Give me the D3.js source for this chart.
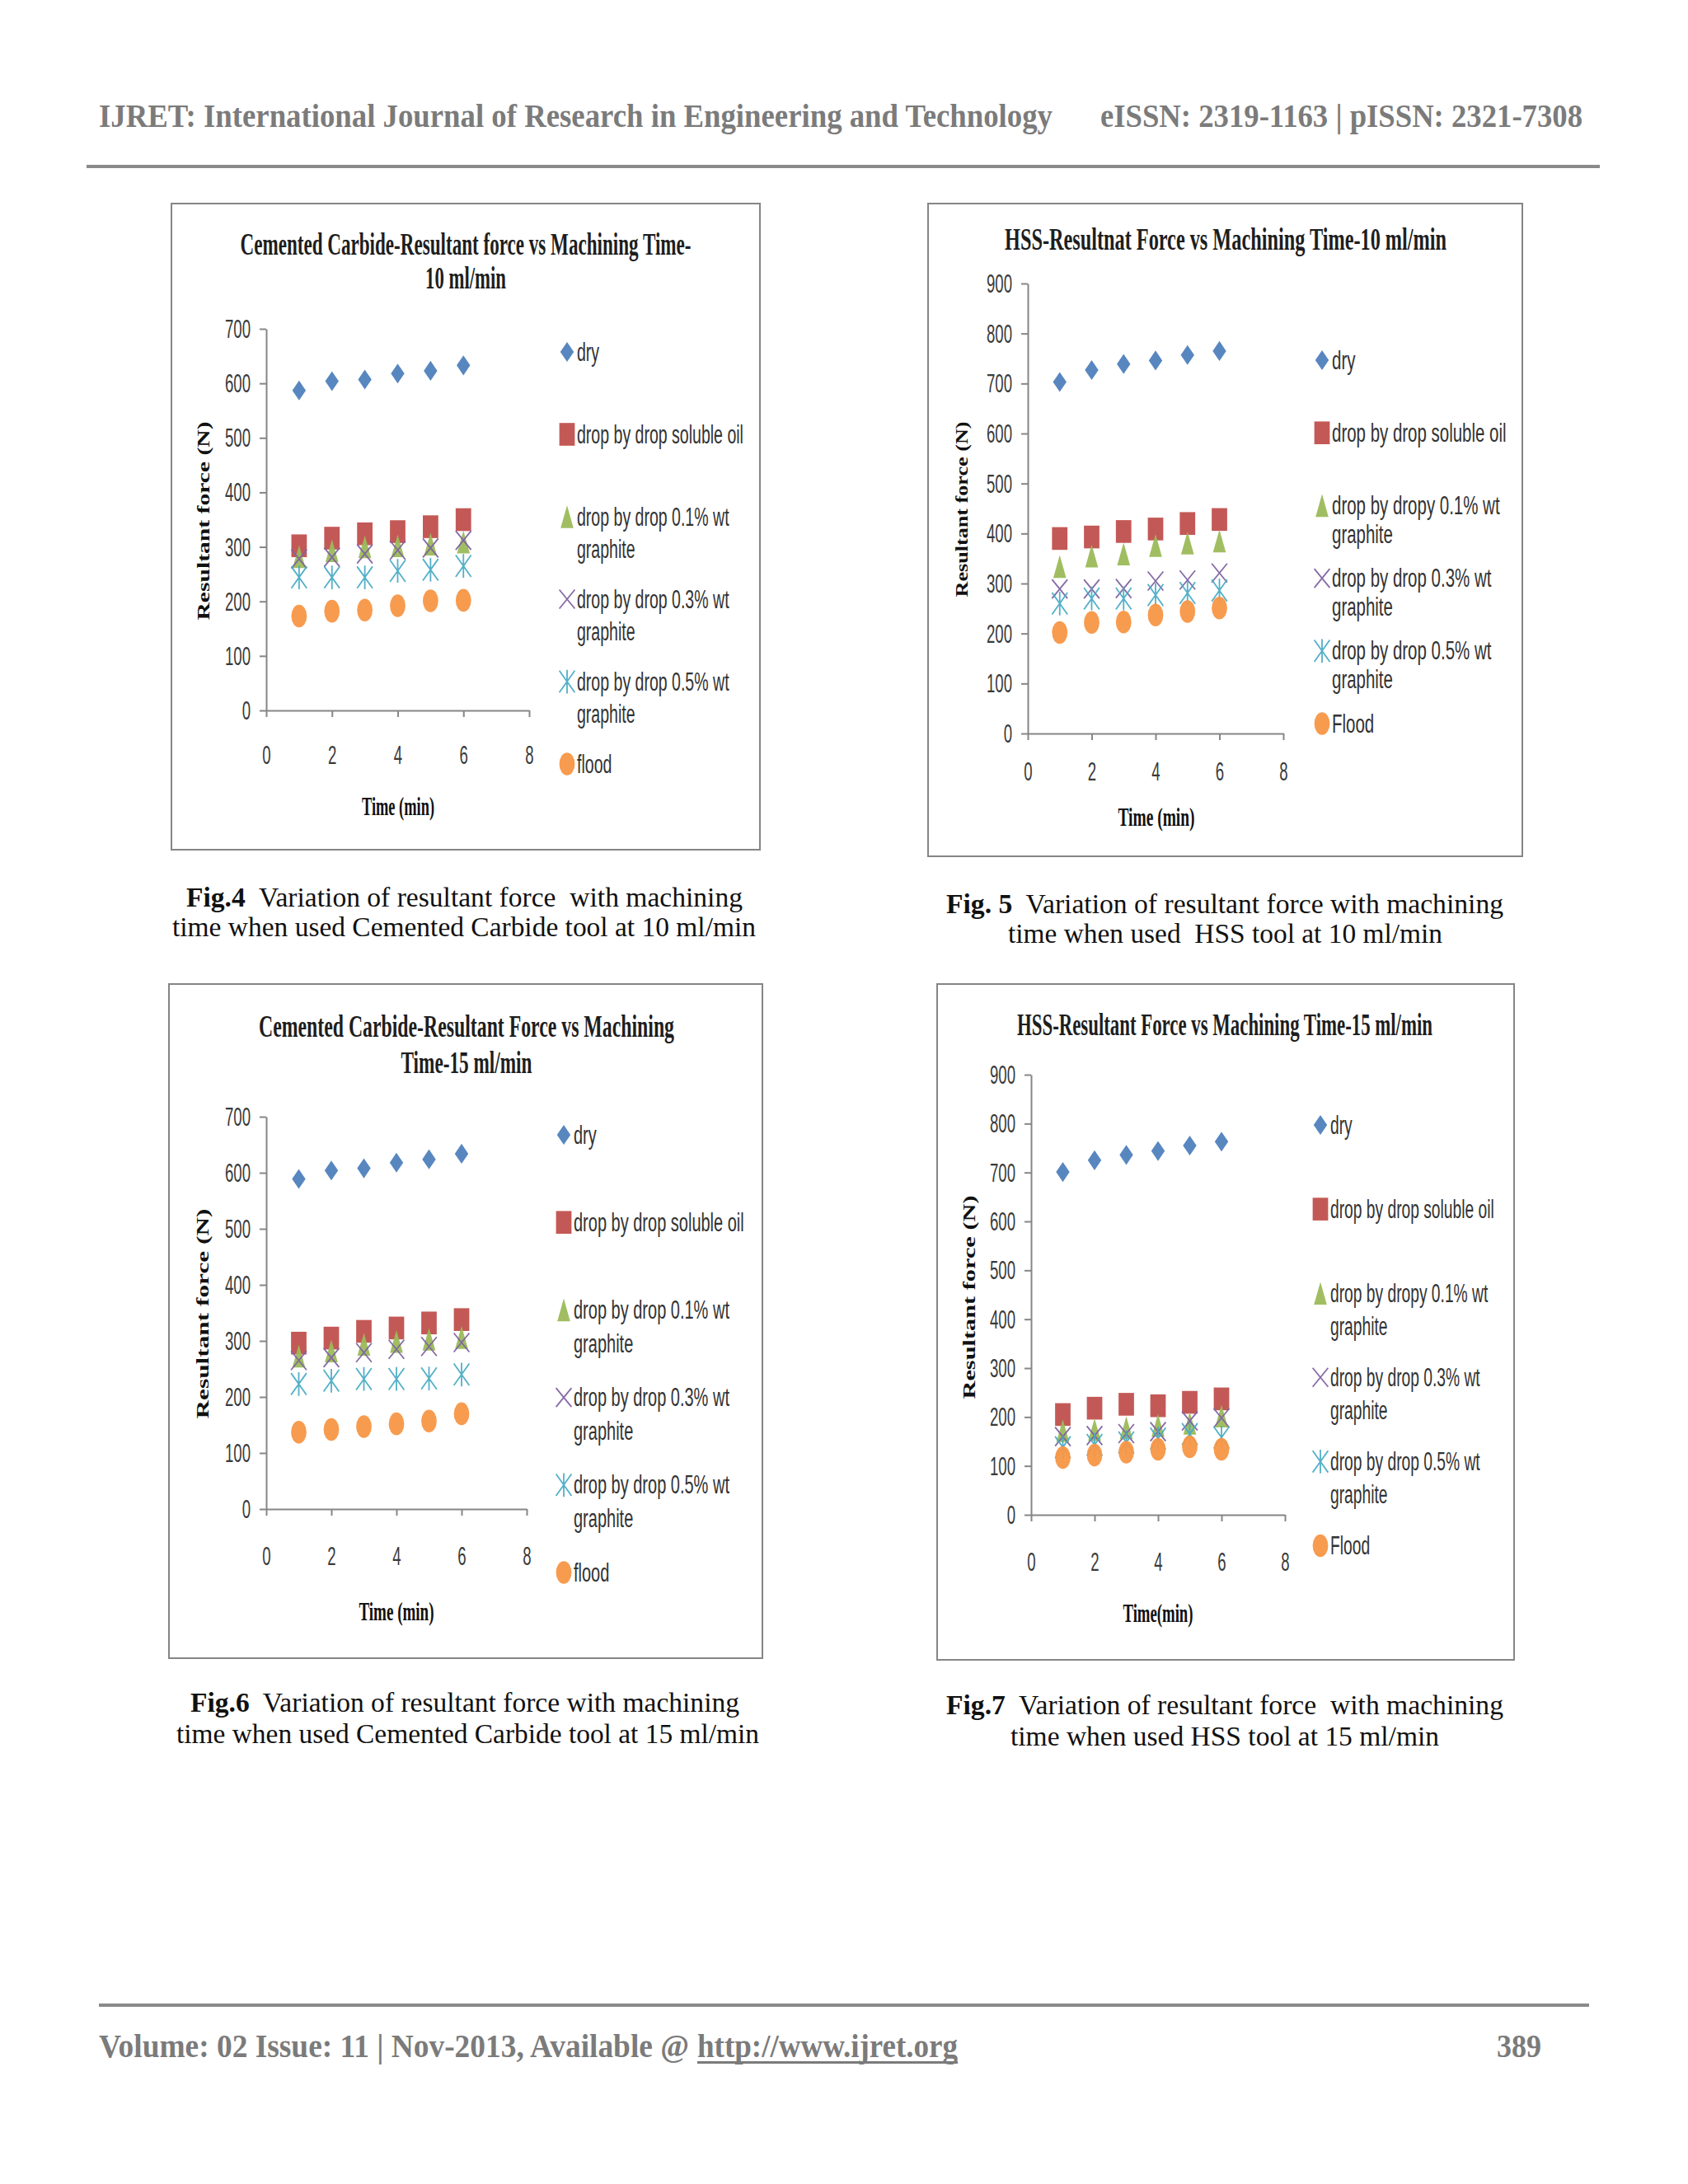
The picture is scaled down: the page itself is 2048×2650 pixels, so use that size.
<!DOCTYPE html>
<html>
<head>
<meta charset="utf-8">
<script src="https://cdn.jsdelivr.net/npm/d3@7"></script>
<style>
body { margin: 0; background: #fff; }
</style>
</head>
<body>
<div id="page"></div>
<script>
// times on the x axis and the six lubrication conditions
var times = [1, 2, 3, 4, 5, 6];
var seriesColors = ["#4F81BD", "#C0504D", "#9BBB59", "#8064A2", "#4BACC6", "#F79646"];
var seriesShapes = ["diamond", "square", "triangle", "cross", "star", "circle"];
var legendCC = [["dry"], ["drop by drop soluble oil"], ["drop by drop 0.1% wt", "graphite"],
  ["drop by drop 0.3% wt", "graphite"], ["drop by drop 0.5% wt", "graphite"], ["flood"]];
var legendHSS = [["dry"], ["drop by drop soluble oil"], ["drop by dropy 0.1% wt", "graphite"],
  ["drop by drop 0.3% wt", "graphite"], ["drop by drop 0.5% wt", "graphite"], ["Flood"]];

// resultant force (N), one row per condition, in legend order
var fig4Force = [
  [587, 604, 607, 618, 623, 633],
  [302, 316, 324, 328, 337, 350],
  [282, 293, 300, 302, 305, 309],
  [278, 281, 287, 294, 298, 312],
  [244, 244, 244, 256, 258, 265],
  [173, 182, 184, 192, 201, 202]
];
var fig5Force = [
  [703, 727, 739, 746, 757, 765],
  [390, 393, 404, 409, 420, 428],
  [334, 355, 359, 376, 381, 385],
  [289, 289, 290, 305, 307, 321],
  [260, 270, 270, 277, 281, 286],
  [202, 222, 223, 237, 244, 251]
];
var fig6Force = [
  [589, 604, 608, 618, 624, 634],
  [296, 305, 317, 323, 332, 338],
  [273, 282, 294, 299, 303, 306],
  [265, 270, 279, 285, 290, 297],
  [223, 229, 232, 232, 233, 240],
  [137, 142, 147, 152, 157, 170]
];
var fig7Force = [
  [701, 725, 736, 744, 755, 763],
  [205, 218, 226, 223, 230, 237],
  [172, 174, 178, 183, 187, 202],
  [160, 162, 166, 170, 192, 198],
  [138, 143, 148, 156, 165, 158],
  [117, 122, 128, 134, 139, 134]
];

var xTicks = [0, 2, 4, 6, 8];
var yTicks700 = [0, 100, 200, 300, 400, 500, 600, 700];
var yTicks900 = [0, 100, 200, 300, 400, 500, 600, 700, 800, 900];

var fig4Title = ["Cemented Carbide-Resultant force vs Machining Time-", "10 ml/min"];
var fig5Title = ["HSS-Resultnat Force vs Machining Time-10 ml/min"];
var fig6Title = ["Cemented Carbide-Resultant Force vs Machining", "Time-15 ml/min"];
var fig7Title = ["HSS-Resultant Force vs Machining Time-15 ml/min"];

var fig4Caption = ["Fig.4", "\u00a0 Variation of resultant force \u00a0with machining", "time when used Cemented Carbide tool at 10 ml/min"];
var fig5Caption = ["Fig. 5", "\u00a0 Variation of resultant force with machining", "time when used \u00a0HSS tool at 10 ml/min"];
var fig6Caption = ["Fig.6", "\u00a0 Variation of resultant force with machining", "time when used Cemented Carbide tool at 15 ml/min"];
var fig7Caption = ["Fig.7", "\u00a0 Variation of resultant force \u00a0with machining", "time when used HSS tool at 15 ml/min"];

var serif = "'Liberation Serif', 'Times New Roman', serif";
var sans = "'Liberation Sans', Arial, sans-serif";
var squeeze = 0.68;
var markScale = 1.15;

var svg = d3.select("#page").append("svg")
    .attr("width", 2048)
    .attr("height", 2650);

function addText(g, str, x, y, o) {
  var t = g.append("text")
      .attr("x", x).attr("y", y)
      .attr("text-anchor", o.anchor || "start")
      .style("font-family", o.family || serif)
      .style("font-size", (o.size || 30) + "px")
      .style("font-weight", o.weight || "normal")
      .style("fill", o.fill || "#111")
      .text(str);
  if (o.len) t.attr("textLength", o.len).attr("lengthAdjust", "spacingAndGlyphs");
  if (o.central) t.attr("dominant-baseline", "central");
  return t;
}

// squeeze a text sideways to k times its natural width
function squeezeText(t, k) {
  var w = t.node().getComputedTextLength();
  t.attr("textLength", w * k).attr("lengthAdjust", "spacingAndGlyphs");
}

// narrow text, like the squeezed Calibri of the original figures
function narrowText(g, str, x, y, o) {
  var t = addText(g, str, x, y, {family: sans, size: o.size || 28, anchor: o.anchor,
    fill: o.fill || "#333", central: true});
  squeezeText(t, o.k || squeeze);
  return t;
}

function markerPath(shape) {
  if (shape == "diamond") return "M0,-10.5L10.5,0L0,10.5L-10.5,0Z";
  if (shape == "square") return "M-12,-12H12V12H-12Z";
  if (shape == "triangle") return "M0,-12L10,12H-10Z";
  if (shape == "cross") return "M-12,-10L12,10M-12,10L12,-10";
  if (shape == "star") return "M-12,-11.5L12,11.5M-12,11.5L12,-11.5M0,-12.5V12.5";
  return "M-12,0A12,12 0 1,0 12,0A12,12 0 1,0 -12,0Z";
}

function addMarker(g, s, px, py) {
  var open = seriesShapes[s] == "cross" || seriesShapes[s] == "star";
  g.append("path")
      .attr("d", markerPath(seriesShapes[s]))
      .attr("transform", "translate(" + px + "," + py + ") scale(" + (squeeze * markScale) + "," + markScale + ")")
      .style("fill", open ? "none" : seriesColors[s])
      .style("stroke", open ? seriesColors[s] : "none")
      .style("stroke-width", 1.8)
      .style("opacity", 0.95)
      .attr("vector-effect", "non-scaling-stroke");
}

var charts = [
  {force: fig4Force, legend: legendCC, yTicks: yTicks700, title: fig4Title, xTitle: "Time (min)",
   box: [208, 247, 922, 1031], x0: 323, x1: 642, y0: 862, y1: 399, xLab: 54,
   titleX: 565, titleY: [296, 337], titleW: [547, 98],
   xt: [483, 978, 88], yt: [247, 632, 241],
   legMx: 688, legTx: 700, legTop: 427, legStep: 100, legGap: 39, legK: 0.63},
  {force: fig5Force, legend: legendHSS, yTicks: yTicks900, title: fig5Title, xTitle: "Time (min)",
   box: [1126, 247, 1847, 1039], x0: 1247, x1: 1557, y0: 890, y1: 344, xLab: 46,
   titleX: 1487, titleY: [290], titleW: [536],
   xt: [1403, 991, 93], yt: [1167, 618, 213],
   legMx: 1604, legTx: 1616, legTop: 437, legStep: 88.2, legGap: 35, legK: 0.66},
  {force: fig6Force, legend: legendCC, yTicks: yTicks700, title: fig6Title, xTitle: "Time (min)",
   box: [205, 1194, 925, 2012], x0: 323, x1: 639, y0: 1831, y1: 1355, xLab: 57,
   titleX: 566, titleY: [1245, 1289], titleW: [504, 159],
   xt: [481, 1955, 91], yt: [246, 1594, 255],
   legMx: 684, legTx: 696, legTop: 1377, legStep: 106.2, legGap: 41, legK: 0.645},
  {force: fig7Force, legend: legendHSS, yTicks: yTicks900, title: fig7Title, xTitle: "Time(min)",
   box: [1137, 1194, 1837, 2014], x0: 1251, x1: 1559, y0: 1838, y1: 1304, xLab: 57,
   titleX: 1486, titleY: [1243], titleW: [504],
   xt: [1405, 1957, 85], yt: [1176, 1574, 247],
   legMx: 1602, legTx: 1614, legTop: 1365, legStep: 102.1, legGap: 40, legK: 0.62}
];

function drawChart(c) {
  var g = svg.append("g");

  g.append("rect")
      .attr("x", c.box[0]).attr("y", c.box[1])
      .attr("width", c.box[2] - c.box[0]).attr("height", c.box[3] - c.box[1])
      .style("fill", "#fff").style("stroke", "#858585").style("stroke-width", 2);

  c.title.forEach(function(t, i) {
    addText(g, t, c.titleX, c.titleY[i], {anchor: "middle", weight: "bold", size: 37,
      len: c.titleW[i], central: true, fill: "#1e1e1e"});
  });

  var x = d3.scaleLinear().domain([0, 8]).range([c.x0, c.x1]);
  var y = d3.scaleLinear().domain([0, d3.max(c.yTicks)]).range([c.y0, c.y1]);

  // y axis
  var ya = g.append("g")
      .attr("transform", "translate(" + c.x0 + ",0)")
      .call(d3.axisLeft(y).tickValues(c.yTicks).tickSize(8).tickSizeOuter(0));
  ya.selectAll(".tick text")
      .attr("x", -19).attr("dy", null)
      .attr("dominant-baseline", "central");

  // x axis
  var xa = g.append("g")
      .attr("transform", "translate(0," + c.y0 + ")")
      .call(d3.axisBottom(x).tickValues(xTicks).tickSize(8).tickSizeOuter(0));
  xa.selectAll(".tick text")
      .attr("y", c.xLab).attr("dy", null)
      .attr("dominant-baseline", "central");

  [ya, xa].forEach(function(a) {
    a.attr("font-family", null).attr("font-size", null);
    a.selectAll("text").style("font-family", sans).style("font-size", "31px").style("fill", "#3a3a3a")
      .each(function() { squeezeText(d3.select(this), 0.6); });
    a.select(".domain").style("stroke", "#868686").style("stroke-width", 2);
    a.selectAll(".tick line").style("stroke", "#868686").style("stroke-width", 2);
  });

  // axis titles
  addText(g, c.xTitle, c.xt[0], c.xt[1], {anchor: "middle", weight: "bold", size: 32,
    len: c.xt[2], central: true, fill: "#111"});
  g.append("text")
      .attr("transform", "translate(" + c.yt[0] + "," + c.yt[1] + ") rotate(-90)")
      .attr("text-anchor", "middle")
      .attr("dominant-baseline", "central")
      .attr("textLength", c.yt[2])
      .attr("lengthAdjust", "spacingAndGlyphs")
      .style("font-family", serif)
      .style("font-size", "20px")
      .style("font-weight", "bold")
      .style("fill", "#111")
      .text("Resultant force (N)");

  // points
  c.force.forEach(function(vals, s) {
    var sg = g.append("g");
    vals.forEach(function(v, i) {
      addMarker(sg, s, x(times[i]), y(v));
    });
  });

  // legend
  c.legend.forEach(function(lines, s) {
    var ly = c.legTop + s * c.legStep;
    addMarker(g, s, c.legMx, ly);
    lines.forEach(function(l, j) {
      narrowText(g, l, c.legTx, ly + j * c.legGap, {k: c.legK, size: 31});
    });
  });
}

charts.forEach(drawChart);

// page header and footer
var grey = "#7b7b7b";
addText(svg, "IJRET: International Journal of Research in Engineering and Technology", 120, 154,
  {size: 39, weight: "bold", fill: grey, len: 1157});
addText(svg, "eISSN: 2319-1163 | pISSN: 2321-7308", 1335, 154,
  {size: 39, weight: "bold", fill: grey, len: 585});
svg.append("rect").attr("x", 105).attr("y", 200).attr("width", 1836).attr("height", 4).style("fill", "#8a8a8a");

svg.append("rect").attr("x", 120).attr("y", 2431).attr("width", 1808).attr("height", 4).style("fill", "#8a8a8a");
addText(svg, "Volume: 02 Issue: 11 | Nov-2013, Available @", 120, 2496,
  {size: 39, weight: "bold", fill: grey, len: 716});
addText(svg, "http://www.ijret.org", 846, 2496,
  {size: 39, weight: "bold", fill: grey, len: 316});
svg.append("rect").attr("x", 846).attr("y", 2501).attr("width", 316).attr("height", 3).style("fill", grey);
addText(svg, "389", 1816, 2496, {size: 39, weight: "bold", fill: grey, len: 54});

// figure captions
function caption(cap, x1, w1, x2, w2, b1, b2) {
  var t = svg.append("text").attr("x", x1).attr("y", b1)
      .attr("textLength", w1).attr("lengthAdjust", "spacingAndGlyphs")
      .style("font-family", serif).style("font-size", "33px").style("fill", "#111");
  t.append("tspan").style("font-weight", "bold").text(cap[0]);
  t.append("tspan").text(cap[1]);
  addText(svg, cap[2], x2, b2, {size: 33, len: w2});
}
caption(fig4Caption, 226, 675, 209, 708, 1100, 1136);
caption(fig5Caption, 1148, 676, 1223, 527, 1108, 1144);
caption(fig6Caption, 231, 666, 214, 707, 2077, 2115);
caption(fig7Caption, 1148, 676, 1226, 520, 2080, 2118);
</script>
</body>
</html>
